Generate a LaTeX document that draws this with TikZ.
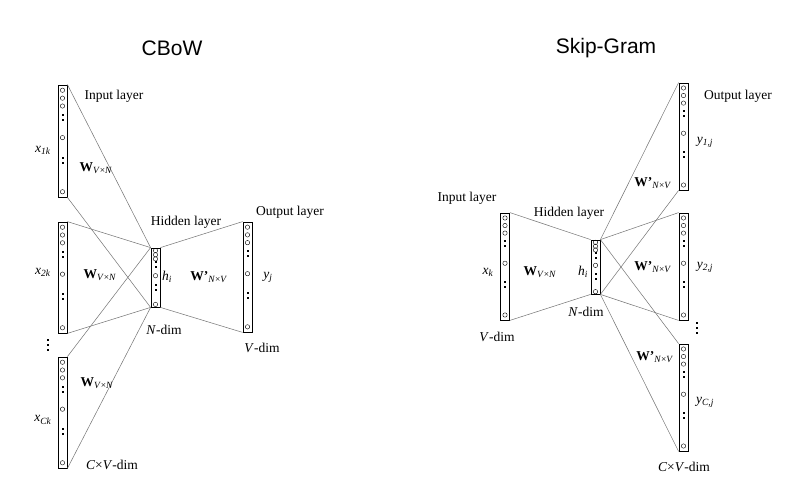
\documentclass[tikz,border=0pt]{standalone}
\usepackage{fontspec}
\setmainfont{Liberation Serif}
\newfontfamily\titlefont{Liberation Sans}
\usetikzlibrary{calc}
\newcommand{\mylayer}[4]{% name, cx, ytop, ybot
  \pgfmathsetmacro{\hh}{#4-#3}
  \node[layer, minimum height=\hh pt] (#1) at (#2,{(#3+#4)/2}) {};
  \foreach \f in {0.05,0.12,0.19,0.47,0.95}
    \draw[thin] ($(#1.north)!\f!(#1.south)$) circle (2.2pt);
  \foreach \f in {0.29,0.67}{
    \fill ($(#1.north)!\f!(#1.south)+(-1,-3.5)$) rectangle +(2,2);
    \fill ($(#1.north)!\f!(#1.south)+(-1,1.5)$) rectangle +(2,2);}
}
\newcommand{\vd}[1]{\foreach \dy in {-5,0,5}\fill ($(#1)+(-1,\dy-1)$) rectangle +(2,2);}
\newcommand{\sub}[1]{\textsubscript{#1}}
\tikzset{
  layer/.style={draw, line width=0.8pt, minimum width=9pt, inner sep=0pt},
  conn/.style={draw=black!55, line width=0.5pt},
  lab/.style={font=\fontsize{13.5}{15}\selectfont, inner sep=0pt},
  ttl/.style={font=\titlefont\fontsize{21}{24}\selectfont},
}
\begin{document}
\begin{tikzpicture}[x=1pt,y=-1pt]
\useasboundingbox (0,0) rectangle (804,489);
\fill[white] (0,0) rectangle (804,489);
\node[ttl] (t1) at (172,48) {CBoW};
\node[ttl] (t2) at (606,48) {Skip-Gram};
% CBoW
\mylayer{i1}{62.5}{85}{197}
\mylayer{i2}{62.5}{222}{333}
\mylayer{i3}{62.5}{357}{468}
\mylayer{h}{155.5}{248}{307}
\mylayer{o}{247.5}{222}{332}
\foreach \b in {i1,i2,i3}{
  \draw[conn] (\b.north east) -- (h.north west);
  \draw[conn] (\b.south east) -- (h.south west);}
\draw[conn] (h.north east) -- (o.north west);
\draw[conn] (h.south east) -- (o.south west);
\node[lab] (l1) at (43,150) {\textit{x}\sub{\textit{1k}}};
\node[lab] (l2) at (43,272) {\textit{x}\sub{\textit{2k}}};
\coordinate (l3) at (48,345); \vd{l3}
\node[lab] (l4) at (43,420) {\textit{x}\sub{\textit{Ck}}};
\node[lab] (w1) at (96,168) {\textbf{W}\sub{\textit{V}×\textit{N}}};
\node[lab] (w2) at (100,275) {\textbf{W}\sub{\textit{V}×\textit{N}}};
\node[lab] (w3) at (97,383) {\textbf{W}\sub{\textit{V}×\textit{N}}};
\node[lab] (il) at (114,96) {Input layer};
\node[lab] (hl) at (186,222) {Hidden layer};
\node[lab] (hi) at (167,277) {\textit{h}\sub{\textit{i}}};
\node[lab] (wp) at (209,277) {\textbf{W'}\sub{\textit{N}×\textit{V}}};
\node[lab] (ol) at (290,212) {Output layer};
\node[lab] (yj) at (268,277) {\textit{y}\sub{\textit{j}}};
\node[lab] (nd) at (164,330) {\textit{N}-dim};
\node[lab] (vd) at (262,348) {\textit{V}-dim};
\node[lab] (cv) at (112,465) {\textit{C}×\textit{V}-dim};
% Skip-Gram
\mylayer{si}{505}{213}{320}
\mylayer{sh}{595.5}{240}{294}
\mylayer{so1}{683.5}{83}{190}
\mylayer{so2}{683.5}{213}{320}
\mylayer{so3}{683.5}{344}{451}
\draw[conn] (si.north east) -- (sh.north west);
\draw[conn] (si.south east) -- (sh.south west);
\foreach \b in {so1,so2,so3}{
  \draw[conn] (sh.north east) -- (\b.north west);
  \draw[conn] (sh.south east) -- (\b.south west);}
\node[lab] (sil) at (467,198) {Input layer};
\node[lab] (shl) at (569,213) {Hidden layer};
\node[lab] (sxk) at (488,272) {\textit{x}\sub{\textit{k}}};
\node[lab] (sw) at (540,272) {\textbf{W}\sub{\textit{V}×\textit{N}}};
\node[lab] (shi) at (583,272) {\textit{h}\sub{\textit{i}}};
\node[lab] (snd) at (586,312) {\textit{N}-dim};
\node[lab] (svd) at (497,337) {\textit{V}-dim};
\node[lab] (sol) at (738,96) {Output layer};
\node[lab] (sy1) at (705,142) {\textit{y}\sub{\textit{1,j}}};
\node[lab] (sw1) at (653,183) {\textbf{W'}\sub{\textit{N}×\textit{V}}};
\node[lab] (sy2) at (705,267) {\textit{y}\sub{\textit{2,j}}};
\node[lab] (sw2) at (653,267) {\textbf{W'}\sub{\textit{N}×\textit{V}}};
\coordinate (sdots) at (697,328); \vd{sdots}
\node[lab] (sw3) at (655,357) {\textbf{W'}\sub{\textit{N}×\textit{V}}};
\node[lab] (sy3) at (705,402) {\textit{y}\sub{\textit{C,j}}};
\node[lab] (scv) at (684,467) {\textit{C}×\textit{V}-dim};
\end{tikzpicture}
\end{document}
